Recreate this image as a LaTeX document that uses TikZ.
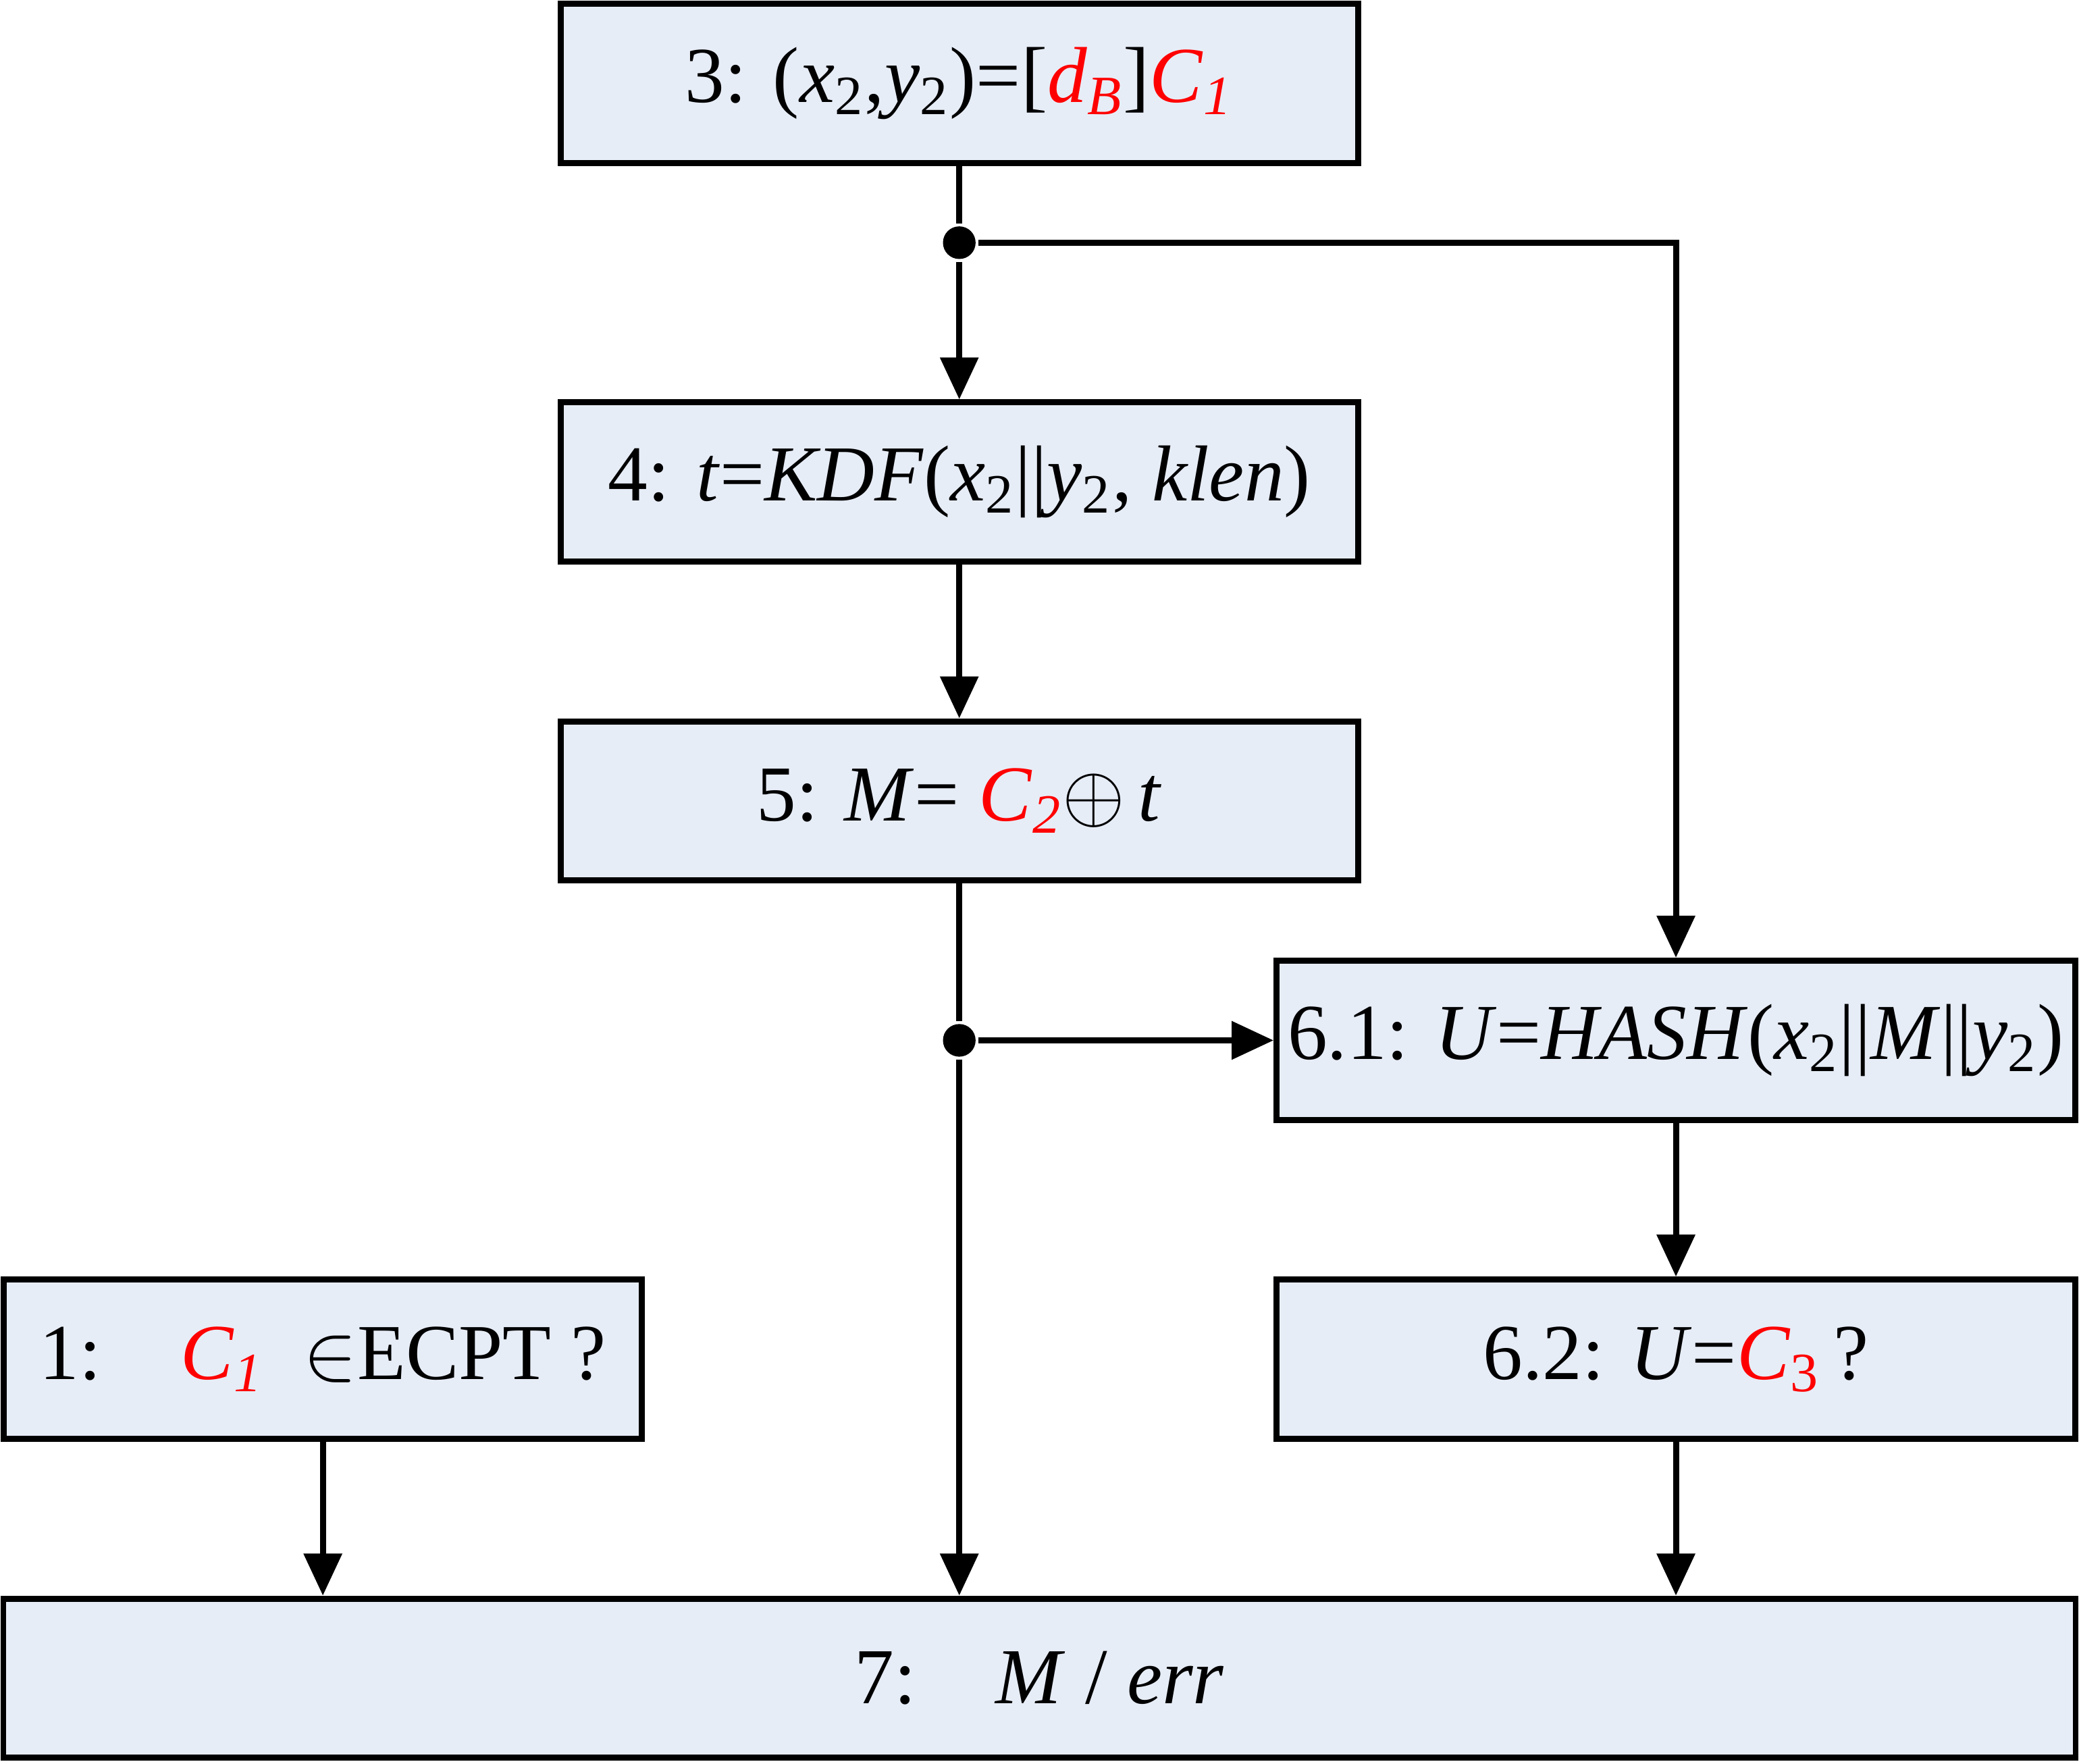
\documentclass[tikz,border=0pt]{standalone}
\usepackage{fontspec}
\setmainfont{Liberation Serif}
\usetikzlibrary{arrows.meta}
\definecolor{boxfill}{HTML}{E7EDF7}
\newcommand{\sbs}[1]{\textsubscript{#1}}
\newcommand{\rd}[1]{\textcolor{red}{#1}}
\begin{document}
\begin{tikzpicture}[x=0.01cm,y=-0.01cm,line width=1.3pt,>={Triangle[length=9pt,width=8pt]},
    step box/.style={draw,fill=boxfill,minimum height=1.2cm,inner sep=0pt,font=\fontsize{17}{20}\selectfont},
    dot/.style={circle,fill,inner sep=0pt,minimum size=7pt}]
  \useasboundingbox (0,0) rectangle (1568,1330);
  \node[step box,minimum width=6.01cm] (s3) at (723.5,63) {3: (\textit{x}\sbs{2},\textit{y}\sbs{2})=[\rd{\textit{d}\sbs{\textit{B}}}]\rd{\textit{C}\sbs{\textit{1}}}};
  \node[step box,minimum width=6.01cm] (s4) at (723.5,363.5) {4: \textit{t}=\textit{KDF}(\textit{x}\sbs{2}||\textit{y}\sbs{2}, \textit{klen})};
  \node[step box,minimum width=6.01cm] (s5) at (723.5,604) {5: \textit{M}= \rd{\textit{C}\sbs{\textit{2}}}$\oplus$\,\textit{t}};
  \node[step box,minimum width=6.02cm] (s61) at (1264,784.5) {6.1: \textit{U}=\textit{HASH}(\textit{x}\sbs{2}||\textit{M}||\textit{y}\sbs{2})};
  \node[step box,minimum width=6.02cm] (s62) at (1264,1025) {6.2: \textit{U}=\rd{\textit{C}\sbs{3}}\,?};
  \node[step box,minimum width=4.81cm] (s1) at (243.5,1025) {1:\quad\rd{\textit{C}\sbs{\textit{1}}}\enspace$\in$ECPT ?};
  \node[step box,minimum width=15.62cm] (s7) at (784,1265.5) {7:\quad\textit{M} / \textit{err}};
  \node[dot] (d1) at (723.5,183) {};
  \node[dot] (d2) at (723.5,784.5) {};
  \coordinate (c1) at (1264,183);
  \draw (s3) -- (d1);
  \draw[->] (d1) -- (s4);
  \draw[->] (d1) -- (c1) -- (s61);
  \draw[->] (s4) -- (s5);
  \draw (s5) -- (d2);
  \draw[->] (d2) -- (s61);
  \draw[->] (d2) -- (d2 |- s7.north);
  \draw[->] (s61) -- (s62);
  \draw[->] (s62) -- (s62 |- s7.north);
  \draw[->] (s1) -- (s1 |- s7.north);
\end{tikzpicture}
\end{document}
